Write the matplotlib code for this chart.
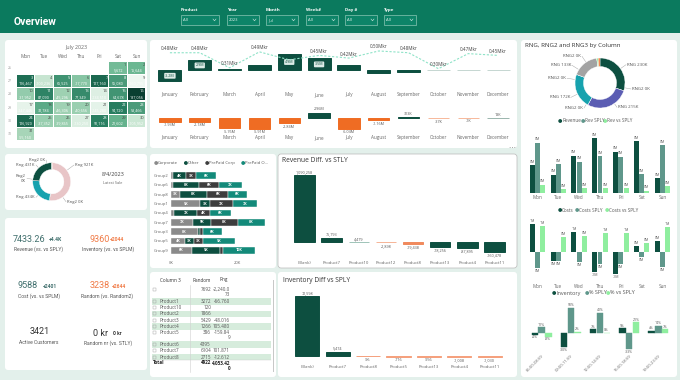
import matplotlib
matplotlib.use('Agg')
import matplotlib.pyplot as plt
import numpy as np
from matplotlib.patches import FancyBboxPatch, Rectangle, Circle
from matplotlib.colors import LinearSegmentedColormap, Normalize

plt.rcParams['font.family'] = ['Open Sans', 'DejaVu Sans']

# ---------------- data ----------------
filters = ['Product', 'Year', 'Month', 'Week#', 'Day #', 'Type']
filter_values = ['All', '2023', 'Jul', 'All', 'All', 'All']

weekdays = ['Mon', 'Tue', 'Wed', 'Thu', 'Fri', 'Sat', 'Sun']
week_nums = [26, 27, 28, 29, 30, 31]
cal_values = [5672, 15644, 116467, -100236, 65525, -17770, 127160, 55080, -160795,
              -31952, 87090, -45296, 77349, -134510, 64678, 187056, -147446, 32784,
              -46306, -40656, -145280, 94720, 53466, 126920, -37352, -39865, -130250,
              91116, 21602, -105952, -55160]

months = ['January', 'February', 'March', 'April', 'May', 'June', 'July', 'August',
          'September', 'October', 'November', 'December']
month_bar = [-3.2, 2.9, 0.3, 1.5, 4.9, 3.5, 1.5, -0.8, -0.6, 0, 0, 0]
month_line = [0.48, 0.48, 0.31, 0.49, 0.40, 0.45, 0.42, 0.50, 0.48, 0.30, 0.47, 0.45]
month_line_labels = ['0.48Mkr', '0.48Mkr', '0.31Mkr', '0.49Mkr', '', '0.45Mkr', '0.42Mkr',
                     '0.50Mkr', '0.48Mkr', '0.30Mkr', '0.47Mkr', '0.45Mkr']
month_diff = [-1.93, -2.18, -5.76, -5.91, -2.84, 2.96, -6.04, -1.16, 0.313, -0.037, -0.001, 0.013]
month_diff_labels = ['-1.93M', '-2.18M', '-5.76M', '-5.91M', '-2.84M', '2.96M', '-6.04M',
                     '-1.16M', '313K', '-37K', '-1K', '13K']

rng_values = [230, 0, 215, 0, 172, 0, 133, 0, 7, 9]
rng_labels = ['RNG 230K', 'RNG2 0K', 'RNG 215K', 'RNG2 0K', 'RNG 172K', 'RNG2 0K',
              'RNG 133K', 'RNG2 0K', '', '']

days = ['Mon', 'Tue', 'Wed', 'Thu', 'Fri', 'Sat', 'Sun']
revenue = [238000, 154000, 316000, 468000, 350000, 440000, 126000]
rev_sply = [426000, 246000, 266000, 314000, 308000, 160000, 406000]
rev_vs_sply = [70000, 34000, 42000, 42000, 42000, 20000, 56000]

costs = [850000, -250000, 600000, -600000, -650000, 180000, 350000]
costs_sply = [-480000, -250000, -300000, -350000, -350000, -150000, -450000]
costs_vs_sply = [790000, 450000, 480000, 590000, 570000, 280000, 750000]

time_slots = ['06:00-08:59', '09:00-11:59', '12:00-14:59', '15:00-18:59', '19:00-23:59']
inventory_pct = [-4, -30, 7, 9, 4]
inv_sply_pct = [11, 50, 40, -33, 14]
inv_vs_sply_pct = [-8, 2, 0, 21, 7]

small_rng_values = [12, 921, 0, 434, 0, 431, 0]
small_rng_labels = ['', 'Rng 921K', 'Rng2 0K', 'Rng 434K', 'Rng2\n0K', 'Rng 431K', 'Rng2 0K']

group_names = ['Group2', 'Group6', 'Group8', 'Group1', 'Group4', 'Group7', 'Group3', 'Group5', 'Group9']
seg_names = ['Corporate', 'Other', 'PrePaid Corp', 'PrePaid O...']
corporate = [0.5, 0.5, 2.6, 8.9, 0.9, 6.6, 8.2, 4.2, 6.2]
other = [4.0, 8.0, 8.4, 2.8, 7.1, 5.4, 0.5, 2.6, 8.6]
prepaid_corp = [3.0, 6.0, 6.2, 7.0, 3.7, 8.2, 1.0, 3.0, 1.0]
prepaid_other = [6.0, 7.0, 5.6, 7.2, 6.4, 8.3, 5.6, 9.4, 9.7]

rd_products = ['(Blank)', 'Product7', 'Product10', 'Product12', 'Product8', 'Product13', 'Product4', 'Product11']
rd_values = [1090258, 75793, 4479, -2898, -19438, -78256, -87895, -160478]

id_products = ['(Blank)', 'Product7', 'Product8', 'Product5', 'Product13', 'Product4', 'Product11']
id_values = [72598, 5474, -96, -716, -956, -1008, -1030]

tbl_names = ['', 'Product1', 'Product10', 'Product2', 'Product3', 'Product4', 'Product5',
             'Product6', 'Product7', 'Product8']
tbl_random = [7692, 3272, 120, 1866, 5429, 1266, 386, 4395, 6104, 2715]
tbl_rng = ['-2,240.0\n73', '-66.760', '', '', '-48.016', '105.480', '-159.84\n9', '', '101.871', '-12.612']
tbl_total = ['Total', '4922', '4,053.42\n0']

kpi_values = ['7433.26', '9360', '9588', '3238', '3421', '0 kr']
kpi_deltas = ['+4.4K', '+2044', '+2401', '+2644', '', '0 kr']
kpi_names = ['Revenue (vs. vs SPLY)', 'Inventory (vs. vs SPLM)', 'Cost (vs. vs SPLM)',
             'Random (vs. Random2)', 'Active Customers', 'Random nr (vs. STLY)']

# ---------------- style ----------------
W, H = 680, 380
DARK = '#0d4f40'
SPLY = '#5f978b'
LGREEN = '#8fee9f'
ORANGE = '#ef6c23'
TEAL = '#17a2ae'
PURPLE = '#5b5db3'
GT = '#666666'

fig = plt.figure(figsize=(W / 100, H / 100), dpi=100)
fig.patch.set_facecolor('#e3f0eb')
bg = fig.add_axes([0, 0, 1, 1], zorder=-5)
bg.set_xlim(0, W)
bg.set_ylim(H, 0)
bg.axis('off')


def axpx(x, y, w, h):
    ax = fig.add_axes([x / W, 1 - (y + h) / H, w / W, h / H])
    ax.patch.set_alpha(0)
    for s in ax.spines.values():
        s.set_visible(False)
    ax.tick_params(length=0, labelsize=3.3, labelcolor=GT, pad=1.5)
    ax.set_yticks([])
    return ax


def panel(x, y, w, h, ec='none'):
    bg.add_patch(FancyBboxPatch((x, y), w, h, boxstyle='round,pad=0,rounding_size=3',
                                fc='white', ec=ec, lw=0.5))


def txt(x, y, s, fs=3.4, color=GT, ha='left', va='center', **kw):
    bg.text(x, y, s, fontsize=fs, color=color, ha=ha, va=va, **kw)


def legend_row(y, items, xs, fs=3.3):
    for (lbl, col), x in zip(items, xs):
        bg.add_patch(Circle((x + 1.2, y), 1.2, color=col))
        txt(x + 3.2, y, lbl, fs=fs, color='#555555')


def donut_labels(cx, cy, r, labels, places, fs):
    for lbl, (lx, ly, ha) in zip(labels, places):
        if not lbl:
            continue
        txt(lx, ly, lbl, fs=fs, color='#555555', ha=ha)
        ax_ = lx - 1 if ha == 'left' else lx + 1
        d = np.hypot(ax_ - cx, ly - cy)
        ex, ey = cx + (ax_ - cx) / d * (r + 0.8), cy + (ly - cy) / d * (r + 0.8)
        bg.plot([ex, ax_], [ey, ly], color='#9a9a9a', lw=0.3)


# ---------------- header ----------------
bg.add_patch(Rectangle((0, 0), W, 33, fc='#0b7a5e', ec='none'))
txt(14, 22, 'Overview', fs=7.5, color='white', weight='bold', family=['Roboto', 'DejaVu Sans'])
fx = [181, 227, 266, 306, 345, 384]
fw = [38, 32, 32, 32, 32, 32]
for name, val, x, w in zip(filters, filter_values, fx, fw):
    txt(x, 10, name, fs=3.2, color='white', weight='bold')
    bg.add_patch(Rectangle((x, 15), w, 10, fc='#0d8468', ec='#a9d8c9', lw=0.4))
    txt(x + 2, 20, val, fs=3.0, color='#e8f5f0')
    bg.plot([x + w - 6, x + w - 4.5, x + w - 3], [19, 20.8, 19], color='#cfe9e0', lw=0.4)

# ---------------- calendar ----------------
panel(5, 40, 142, 108)
txt(76, 47, 'July 2023', fs=3.8, ha='center')
cal_cmap = LinearSegmentedColormap.from_list('cal', ['#eef7f1', '#b6ddc2', '#6db893', '#237a5d', '#0a3f31'])
norm = Normalize(min(cal_values), max(cal_values))
axc = axpx(16, 61, 130, 80)
axc.set_xlim(0, 7)
axc.set_ylim(6, 0)
axc.set_xticks([])
first = 5
for d, v in enumerate(cal_values):
    r, c = divmod(d + first, 7)
    lum = norm(v)
    axc.add_patch(Rectangle((c + 0.03, r + 0.04), 0.94, 0.92, fc=cal_cmap(lum), ec='none'))
    axc.text(c + 0.93, r + 0.28, str(d + 1), fontsize=2.9, ha='right', va='center',
             color='white' if lum > 0.6 else '#444444')
    axc.text(c + 0.5, r + 0.68, f'{v:,}', fontsize=2.7, ha='center', va='center', color='white')
for i, wd in enumerate(weekdays):
    axc.text(i + 0.5, -0.35, wd, fontsize=3.4, ha='center', va='center', color=GT)
for r, wk in enumerate(week_nums):
    axc.text(-0.32, r + 0.5, str(wk), fontsize=2.5, ha='center', va='center', color='#999999')

# ---------------- monthly panel ----------------
panel(150, 40, 367, 108)
xm = np.arange(len(months))
ax_up = axpx(155, 43, 358, 45)
ax_up.set_xlim(-0.5, 11.5)
ax_up.set_ylim(-5.2, 8.05)
edge = ['#c5d6d1' if v == 0 else DARK for v in month_bar]
ax_up.bar(xm, month_bar, width=0.77, color=DARK, edgecolor=edge, lw=0.7)
for i, v in enumerate(month_bar):
    if abs(v) >= 2:
        ax_up.text(i, v / 2, f'{v:.1f}M', fontsize=2.6, ha='center', va='center', color=DARK,
                   bbox=dict(boxstyle='round,pad=0.25', fc='#dcebe6', ec='none'))
ax_up.set_xticks(xm)
ax_up.set_xticklabels(months, fontsize=3.3)
ax_up.tick_params(axis='x', pad=2.8)
ax_ln = ax_up.twinx()
for s in ax_ln.spines.values():
    s.set_visible(False)
ax_ln.set_yticks([])
ax_ln.set_ylim(0.082, 0.590)
ax_ln.plot(xm, month_line, color='#8fe3c8', lw=0.8, ls=(0, (2, 1.5)))
for i, (v, l) in enumerate(zip(month_line, month_line_labels)):
    ax_ln.text(i, v + 0.045, l, fontsize=3.3, ha='center', va='center', color='#444444')

ax_lo = axpx(155, 100, 358, 33)
ax_lo.set_xlim(-0.5, 11.5)
ax_lo.set_ylim(-8.3, 10)
lo_cols = []
for v in month_diff:
    if v < 0:
        lo_cols.append(ORANGE if v < -0.1 else '#f7b89a')
    else:
        lo_cols.append(DARK if v > 0.1 else '#9ab5ad')
ax_lo.bar(xm, month_diff, width=0.72, color=lo_cols, edgecolor=lo_cols, lw=0.7)
for i, (v, l) in enumerate(zip(month_diff, month_diff_labels)):
    if v < 0:
        ax_lo.text(i, v - 1.9, l, fontsize=2.7, ha='center', va='center', color='#555555')
    else:
        ax_lo.text(i, v + 1.9, l, fontsize=2.7, ha='center', va='center', color='#555555')
ax_lo.set_xticks(xm)
ax_lo.set_xticklabels(months, fontsize=3.3)
ax_lo.tick_params(axis='x', pad=1.5)

# ---------------- right panel ----------------
panel(521, 40, 156, 337)
txt(525, 46, 'RNG, RNG2 and RNG3 by Column', fs=4.4, color='#333333')
axd = axpx(575, 58, 50, 50)
axd.set_xticks([])
rng_colors = [DARK, DARK, PURPLE, PURPLE, TEAL, TEAL, '#a3a3a3', '#a3a3a3', LGREEN, ORANGE]
axd.pie(rng_values, colors=rng_colors, startangle=90, counterclock=False,
        wedgeprops=dict(width=0.34, edgecolor='white', linewidth=0.3))
axd.set_xlim(-1, 1)
axd.set_ylim(-1, 1)
axd.set_aspect('equal')
rng_places = [(627, 64.7, 'left'), (632, 89, 'left'), (618, 107.3, 'left'), (583, 108, 'right'),
              (570, 97.3, 'right'), (566, 78.3, 'right'), (571, 65.3, 'right'), (581, 56.3, 'right'),
              (0, 0, 'left'), (0, 0, 'left')]
donut_labels(600, 83, 25, rng_labels, rng_places, 3.2)

legend_row(121, [('Revenue', DARK), ('Rev SPLY', SPLY), ('Rev vs SPLY', LGREEN)], [559, 582, 604])
xd = np.arange(len(days))
bw = 0.25
axr = axpx(527, 133, 146, 60)
axr.set_xlim(-0.5, 6.5)
axr.set_ylim(0, max(revenue) * 1.09)
for off, vals, col in [(-bw, revenue, DARK), (0, rev_sply, SPLY), (bw, rev_vs_sply, LGREEN)]:
    axr.bar(xd + off, vals, width=bw * 0.95, color=col)
    for i, v in enumerate(vals):
        axr.text(i + off, v + 12000, f'{v / 1e6:.0f}M', fontsize=2.5, ha='center', va='bottom', color='#555555')
axr.set_xticks(xd)
axr.set_xticklabels(days, fontsize=3.3)

legend_row(210, [('Costs', DARK), ('Costs SPLY', SPLY), ('Costs vs SPLY', LGREEN)], [559, 576, 606])
axk = axpx(527, 218, 146, 60)
axk.set_xlim(-0.5, 6.5)
axk.set_ylim(-771000, 1029000)
for off, vals, col in [(-bw, costs, DARK), (0, costs_sply, SPLY), (bw, costs_vs_sply, LGREEN)]:
    axk.bar(xd + off, vals, width=bw * 0.95, color=col)
    for i, v in enumerate(vals):
        axk.text(i + off, v + (30000 if v >= 0 else -30000), f'{v / 1e6:.0f}M'.replace('-0M', '0M'),
                 fontsize=2.5, ha='center', va='bottom' if v >= 0 else 'top', color='#555555')
axk.set_xticks(xd)
axk.set_xticklabels(days, fontsize=3.3)
axk.tick_params(axis='x', pad=4)

legend_row(293, [('Inventory', DARK), ('% SPLY', SPLY), ('% vs SPLY', LGREEN)], [553, 586, 607], fs=4.0)
xt = np.arange(len(time_slots))
axi = axpx(527, 303, 146, 47)
axi.set_xlim(-0.5, 4.5)
axi.set_ylim(-35.3, 60.6)
bi = 0.23
for off, vals, col in [(-bi, inventory_pct, DARK), (0, inv_sply_pct, SPLY), (bi, inv_vs_sply_pct, LGREEN)]:
    axi.bar(xt + off, vals, width=bi * 0.95, color=col, edgecolor=col, lw=0.3)
    for i, v in enumerate(vals):
        axi.text(i + off, v + (1.5 if v >= 0 else -1.5), f'{v}%', fontsize=2.5, ha='center',
                 va='bottom' if v >= 0 else 'top', color='#555555')
axi.set_xticks(xt)
axi.set_xticklabels(time_slots, fontsize=3.0, rotation=45, ha='right', rotation_mode='anchor')
axi.tick_params(axis='x', pad=3)

# ---------------- small donut ----------------
panel(5, 154, 142, 56)
axs = axpx(32.7, 162.7, 38, 38)
axs.set_xticks([])
small_cols = [ORANGE, '#e8c5c7', '#e8c5c7', TEAL, TEAL, DARK, DARK]
axs.pie(small_rng_values, colors=small_cols, startangle=90, counterclock=False,
        wedgeprops=dict(width=0.36, edgecolor='white', linewidth=0.3))
axs.set_xlim(-1, 1)
axs.set_ylim(-1, 1)
axs.set_aspect('equal')
small_places = [(0, 0, 'left'), (75, 165, 'left'), (67, 201.7, 'left'), (35, 197.3, 'right'),
                (26, 178.5, 'right'), (35, 165, 'right'), (45, 160, 'right')]
donut_labels(51.7, 181.7, 19, small_rng_labels, small_places, 3.1)
txt(113, 175, '8/4/2023', fs=4.0, ha='center', color='#444444')
txt(113, 183, 'Latest Sale', fs=2.8, ha='center', color='#666666')

# ---------------- KPI panel ----------------
panel(5, 218, 142, 152)
NUMF = ['Roboto', 'DejaVu Sans']
KT = '#3f6e6c'
KO = '#f07b47'
kpi_pos = [(13, 49, 239, 39, 249, KT), (90, 110, 239, 108, 249, KO),
           (18, 43, 286, 39, 296, KT), (90, 112, 286, 107, 296, KO),
           (30, None, 332, 39, 342, '#333333'), (93, 113, 333, 108, 343, '#333333')]
for (xv, xd_, yv, xl, yl, col), v, dl, nm in zip(kpi_pos, kpi_values, kpi_deltas, kpi_names):
    txt(xv, yv, v, fs=6.5, color=col, family=NUMF)
    if xd_ is not None and dl:
        txt(xd_, yv + 0.5, dl, fs=3.6, color=col, family=NUMF, weight='bold')
    txt(xl, yl, nm, fs=3.6, color='#555555', ha='center', family=NUMF)

# ---------------- group bars ----------------
panel(150, 154, 126, 114)
legend_row(163, list(zip(seg_names, ['#8a8a8a', DARK, '#3d3d3d', '#138a7a'])), [155, 184.7, 206, 242], fs=3.1)
axg = axpx(171, 171, 101, 84)
axg.set_ylim(8.5, -0.5)
axg.set_xlim(0, 30.5)
yg = np.arange(len(group_names))
left = np.zeros(len(group_names))
for vals, col in zip([corporate, other, prepaid_corp, prepaid_other], ['#8a8a8a', DARK, '#3d3d3d', '#138a7a']):
    vals = np.array(vals)
    axg.barh(yg, vals, left=left, height=0.68, color=col, edgecolor='white', lw=0.3)
    for i, v in enumerate(vals):
        if v >= 2:
            axg.text(left[i] + v / 2, i, f'{v:.0f}K', fontsize=2.7, ha='center', va='center',
                     color='white', weight='bold')
    left += vals
axg.set_yticks(yg)
axg.set_yticklabels(group_names, fontsize=3.0)
axg.set_xticks([0, 20])
axg.set_xticklabels(['0K', '20K'], fontsize=3.0)
axg.tick_params(axis='x', pad=4)

# ---------------- revenue diff ----------------
panel(278, 154, 239, 114, ec='#b9b9b9')
txt(282, 160.5, 'Revenue Diff. vs STLY', fs=4.8, color='#333333')
txt(512, 149, '⋯', fs=5, ha='center', color='#777777')
rd_cols = [DARK, DARK, '#9fc4b8', '#f6b496', '#f08a5d', DARK, DARK, DARK]
axrd = axpx(291, 172, 217, 86)
xr = np.arange(len(rd_products))
axrd.set_xlim(-0.5, len(rd_products) - 0.5)
axrd.set_ylim(-254000, 1139000)
axrd.bar(xr, rd_values, width=0.76, color=rd_cols, edgecolor=rd_cols, lw=0.7)
for i, v in enumerate(rd_values):
    axrd.text(i, v + (20000 if v >= 0 else -20000), f'{v:,}', fontsize=2.7, ha='center',
              va='bottom' if v >= 0 else 'top', color='#555555')
axrd.set_xticks(xr)
axrd.set_xticklabels(rd_products, fontsize=3.1)
axrd.tick_params(axis='x', pad=2.5)

# ---------------- table ----------------
panel(150, 272, 126, 105)
txt(160, 280, 'Column 3', fs=3.3, color='#333333')
txt(211, 280, 'Random', fs=3.3, color='#333333', ha='right')
txt(220, 280, 'Rng', fs=3.3, color='#333333')
bg.plot([189.7, 189.7], [285, 372], color='#d0d0d0', lw=0.4)
bg.add_patch(Rectangle((272.5, 280), 1.6, 92, fc='#c8c8c8', ec='none'))
y = 289.7
for i, (nm, rv, rg) in enumerate(zip(tbl_names, tbl_random, tbl_rng)):
    wrapped = '\n' in rg
    hgt = 6.3 + (5.3 if wrapped else 0)
    if i % 2 == 1:
        bg.add_patch(Rectangle((152, y - 3.1), 119, 6.3, fc='#d6ecdc', ec='none'))
    bg.add_patch(Rectangle((153, y - 1.5), 3, 3, fc='none', ec='#9a9a9a', lw=0.3))
    txt(160, y, nm, fs=3.3, color='#555555')
    txt(211, y, str(rv), fs=3.3, color='#555555', ha='right')
    if rg:
        parts = rg.split('\n')
        txt(230, y, parts[0], fs=3.3, color='#555555', ha='right')
        if len(parts) > 1:
            txt(230, y + 5, parts[1], fs=3.3, color='#555555', ha='right')
    y += hgt
bg.add_patch(Rectangle((152, 360), 119, 12, fc='white', ec='none'))
bg.plot([152, 271], [360, 360], color='#cccccc', lw=0.3)
txt(153, 363, tbl_total[0], fs=3.3, color='#222222', weight='bold')
txt(211, 363, tbl_total[1], fs=3.3, color='#222222', ha='right', weight='bold')
tp = tbl_total[2].split('\n')
txt(230, 363, tp[0], fs=3.3, color='#222222', ha='right', weight='bold')
txt(230, 368, tp[1], fs=3.3, color='#222222', ha='right', weight='bold')

# ---------------- inventory diff ----------------
panel(278, 272, 239, 105)
txt(283, 280, 'Inventory Diff vs SPLY', fs=4.8, color='#333333')
id_cols = [DARK if v > 0 else '#f5a07c' for v in id_values]
axid = axpx(292, 286, 213, 76)
xi = np.arange(len(id_products))
axid.set_xlim(-0.5, len(id_products) - 0.5)
axid.set_ylim(-6900, 85060)
axid.bar(xi, id_values, width=0.79, color=id_cols, edgecolor=id_cols, lw=0.7)
for i, v in enumerate(id_values):
    axid.text(i, v + (1500 if v >= 0 else -1500), f'{v:,}', fontsize=2.7, ha='center',
              va='bottom' if v >= 0 else 'top', color='#555555')
axid.set_xticks(xi)
axid.set_xticklabels(id_products, fontsize=3.1)
axid.tick_params(axis='x', pad=2.5)

fig.savefig('out.png', dpi=100, facecolor=fig.get_facecolor())
